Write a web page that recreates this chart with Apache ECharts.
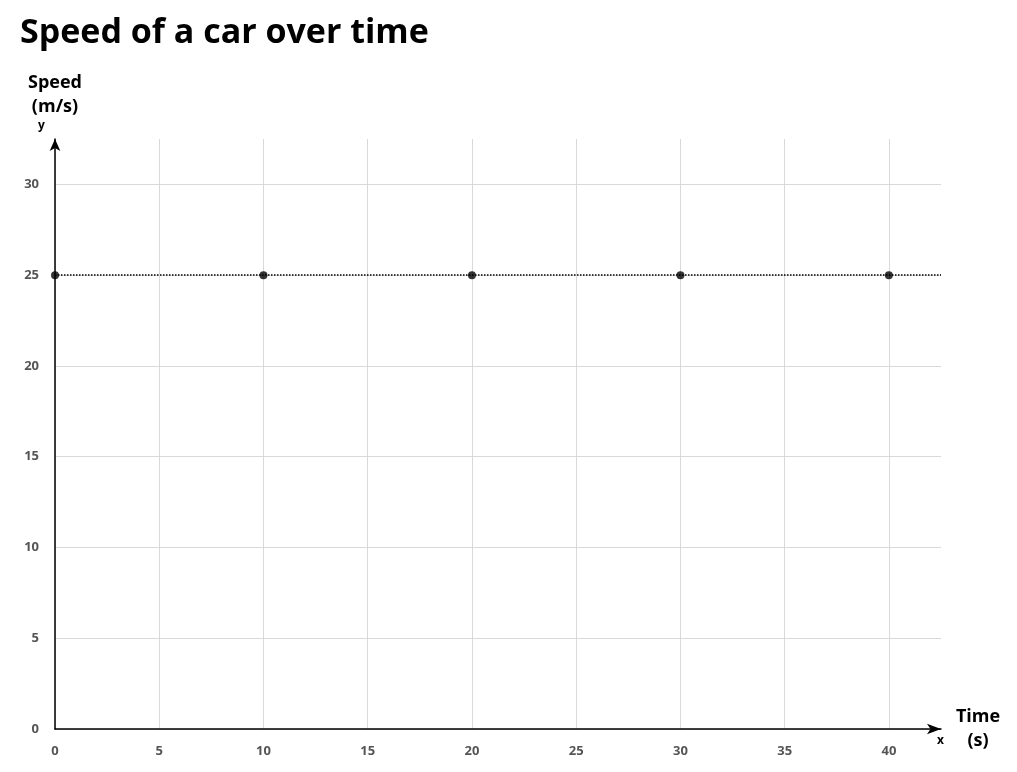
<!DOCTYPE html>
<html>
<head>
<meta charset="utf-8">
<script src="https://cdn.jsdelivr.net/npm/echarts@6/dist/echarts.min.js"></script>
<style>html,body{margin:0;padding:0;background:#fff;}#c{width:1017px;height:772px;}</style>
</head>
<body>
<div id="c"></div>
<script>
const titleText = 'Speed of a car over time';
const xAxisName = 'Time\n(s)';
const yAxisName = 'Speed\n(m/s)';
const timeValues = [0, 10, 20, 30, 40];
const speedValues = [25, 25, 25, 25, 25];
const xMin = 0, xMax = 42.5, xStep = 5;
const yMin = 0, yMax = 32.5, yStep = 5;

const chart = echarts.init(document.getElementById('c'));
const points = timeValues.map((t, i) => [t, speedValues[i]]);
const font = '"Open Sans", Lato, sans-serif';
chart.setOption({
  animation: false,
  backgroundColor: '#fff',
  title: {
    text: titleText, left: 15, top: 11,
    textStyle: { fontFamily: font, fontWeight: 'bold', fontSize: 34, color: '#000' }
  },
  grid: { left: 55, right: 76, top: 139, bottom: 43 },
  xAxis: {
    type: 'value', min: xMin, max: xMax, interval: xStep,
    name: xAxisName, nameLocation: 'end', nameGap: 37,
    nameTextStyle: { fontFamily: font, fontWeight: 'bold', fontSize: 18, color: '#000', align: 'center', verticalAlign: 'middle', lineHeight: 24, padding: [4, 0, 0, 0] },
    axisLine: { show: true, lineStyle: { color: '#000', width: 1.5 }, symbol: ['none', 'arrow'], symbolSize: [8, 14] },
    axisTick: { show: false },
    splitLine: { show: true, showMaxLine: false, lineStyle: { color: '#d9d9d9', width: 1 } },
    axisLabel: {
      fontFamily: font, fontWeight: 'bold', fontSize: 13, color: '#555', margin: 16,
      showMaxLabel: false,
      formatter: v => (v % 5 === 0 ? String(v) : '')
    }
  },
  yAxis: {
    type: 'value', min: yMin, max: yMax, interval: yStep,
    name: yAxisName, nameLocation: 'end', nameGap: 20,
    nameTextStyle: { fontFamily: font, fontWeight: 'bold', fontSize: 18, color: '#000', align: 'center', lineHeight: 24 },
    axisLine: { show: true, lineStyle: { color: '#000', width: 1.5 }, symbol: ['none', 'arrow'], symbolSize: [8, 12] },
    axisTick: { show: false },
    splitLine: { show: true, showMaxLine: false, lineStyle: { color: '#d9d9d9', width: 1 } },
    axisLabel: {
      fontFamily: font, fontWeight: 'bold', fontSize: 13, color: '#555', margin: 16,
      showMaxLabel: false,
      formatter: v => (v % 5 === 0 ? String(v) : '')
    }
  },
  graphic: [
    { type: 'text', left: 38, top: 120, style: { text: 'y', font: 'bold 12px ' + font, fill: '#000' } },
    { type: 'text', left: 937, top: 735, style: { text: 'x', font: 'bold 12px ' + font, fill: '#000' } }
  ],
  series: [{
    type: 'scatter',
    data: points,
    symbol: 'circle', symbolSize: 8,
    itemStyle: { color: '#000' },
    markLine: {
      silent: true, symbol: ['none', 'none'], label: { show: false },
      lineStyle: { type: 'dotted', color: '#000', width: 1.5 },
      data: [{ yAxis: speedValues[0] }]
    },
    z: 5
  }]
});
</script>
</body>
</html>
